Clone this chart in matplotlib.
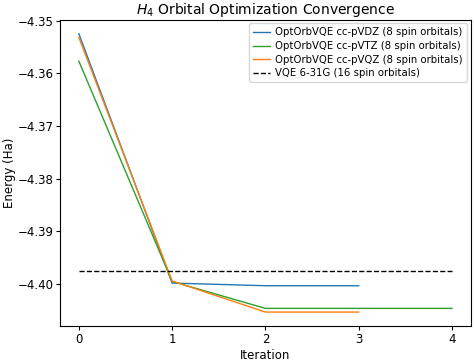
import matplotlib
matplotlib.use("Agg")
from matplotlib import pyplot as plt

# energies per iteration (Ha)
iters_dz = [0, 1, 2, 3]
e_dz = [-4.3525, -4.3998, -4.4003, -4.4003]
iters_tz = [0, 1, 2, 3, 4]
e_tz = [-4.3577, -4.3995, -4.4046, -4.4046, -4.4046]
iters_qz = [0, 1, 2, 3]
e_qz = [-4.3532, -4.3994, -4.4053, -4.4053]
vqe_631g = -4.3975
vqe_iters = [0, 4]

fig, ax = plt.subplots(figsize=(4.74, 3.61), dpi=100)
ax.plot(iters_dz, e_dz, color="tab:blue", lw=1, label="OptOrbVQE cc-pVDZ (8 spin orbitals)")
ax.plot(iters_tz, e_tz, color="tab:green", lw=1, label="OptOrbVQE cc-pVTZ (8 spin orbitals)")
ax.plot(iters_qz, e_qz, color="tab:orange", lw=1, label="OptOrbVQE cc-pVQZ (8 spin orbitals)")
ax.plot(vqe_iters, [vqe_631g] * 2, "k--", lw=1, label="VQE 6-31G (16 spin orbitals)")

ax.set_xticks([0, 1, 2, 3, 4])
ax.set_xlabel("Iteration", fontsize=8.5, labelpad=2)
ax.set_ylabel("Energy (Ha)", fontsize=8.5, labelpad=1)
ax.set_title("$H_4$ Orbital Optimization Convergence", fontsize=10, pad=4)
ax.tick_params(labelsize=8.5, length=3, pad=2)
ax.legend(loc="upper right", fontsize=7.3, labelspacing=0.36, handlelength=1.7,
          handletextpad=0.5, borderpad=0.4, borderaxespad=0.35)

fig.subplots_adjust(left=0.127, right=0.993, top=0.945, bottom=0.097)
fig.savefig("out.png")
